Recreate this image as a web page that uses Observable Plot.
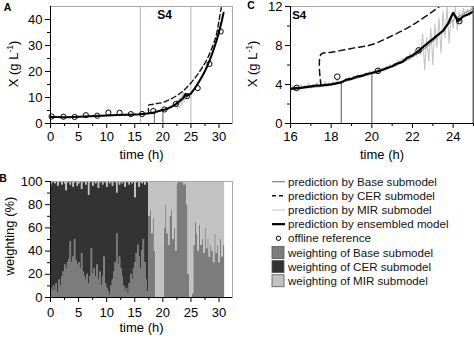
<!DOCTYPE html>
<html><head><meta charset="utf-8">
<script src="https://cdn.jsdelivr.net/npm/d3@7"></script>
<script src="https://cdn.jsdelivr.net/npm/@observablehq/plot@0.6"></script>
<style>
body{margin:0;background:#fff;}
#fig{position:relative;width:474px;height:339px;overflow:hidden;font-family:"Liberation Sans",Arial,Helvetica,sans-serif;}
#fig > svg{position:absolute;overflow:visible;}
</style></head><body><div id="fig"></div>
<script>
// ---------- data ----------
const offlineTime = [0.2,2.3,4.3,6.3,8.3,10.3,12.3,14.3,16.3,18.3,20.3,22.3,24.3,26.2,28.3,30.3];
const offlineX    = [2.7,2.6,2.5,3.2,3.0,4.2,4.1,3.6,3.65,4.8,5.4,7.5,10.5,13.6,22.9,35.4];

const ensTime = [0,1,2,3,4,5,6,7,8,9,10,11,12,13,14,15,
  16,16.25,16.5,16.75,17,17.25,17.5,17.75,18,18.25,18.5,18.75,19,19.25,19.5,19.75,20,20.25,20.5,20.75,
  21,21.25,21.5,21.75,22,22.25,22.5,22.75,23,23.25,23.5,23.75,24,24.25,24.5,24.75,25,
  25.5,26,26.5,27,27.5,28,28.5,29,29.5,30,30.5,30.8];
const ensX = [2.5,2.5,2.4,2.4,2.5,2.6,2.7,2.8,2.9,3.0,3.1,3.2,3.3,3.35,3.4,3.5,
  3.55,3.62,3.66,3.74,3.8,3.88,3.9,3.97,4.02,4.12,4.22,4.5,4.58,4.8,4.88,5.08,5.18,5.32,5.48,5.7,
  5.88,6.15,6.32,6.75,6.98,7.35,7.8,8.25,8.65,9.1,9.5,10.25,11.35,10.5,11.0,11.2,11.5,
  13.0,14.6,16.3,18.2,20.2,22.5,25.2,28.2,31.5,35.2,39.5,42.5];

const baseTime = [0,2,4,6,8,10,12,14,16,17,18,19,20,21,22,23,24,25,26,27,28,29,30,30.9];
const baseX    = [2.4,2.3,2.4,2.6,2.8,3.0,3.2,3.3,3.45,3.7,3.95,4.5,5.1,5.8,6.8,8.4,10.6,11.8,14.3,17.8,22.4,28.0,35.2,43.0];

const cerTime = [17.5,17.5,18,19,20,21,22,23,23.5,24,25,26,27,28,29,29.5,30,30.4];
const cerX    = [3.9,7.1,7.3,7.7,8.1,9.0,10.1,11.5,12.3,13.3,15.6,18.3,21.5,25.3,30.5,33.8,39.5,44.5];

const mirTime = d3.range(160, 251).map(i => i / 10); // 16.0 .. 25.0 h
const mirX = [3.3,3.9,3.4,3.8,3.5,4.0,3.6,3.9,3.7,4.1,
  3.6,4.0,3.8,4.2,3.7,4.1,3.9,4.3,3.8,4.2,
  4.0,4.3,4.0,4.5,4.1,4.4,4.2,4.6,4.4,4.8,
  4.5,4.9,4.6,5.0,4.7,5.1,4.8,5.2,4.9,5.4,
  5.0,5.4,5.2,5.6,5.3,5.7,5.4,5.9,5.6,6.1,
  5.8,6.2,6.0,6.5,6.2,6.7,6.4,6.9,6.6,7.2,
  6.8,7.4,6.9,7.7,7.1,9.2,5.5,8.8,6.4,9.8,
  6.0,10.2,7.8,10.8,7.2,11.5,8.8,12.0,8.2,11.2,
  9.8,12.0,9.6,11.4,10.4,11.8,10.9,11.7,11.1,11.9,
  11.3];

const zoomWindow = [16, 25];
const sampleTime = [18.5, 20];
const sampleX = [4.25, 5.25];

const weightTime = d3.range(0, 125).map(i => i * 0.25); // 0 .. 31 h
const weightBase = [8,5,10,6,12,4,15,10,18,22,28,25,30,33,48,30,35,50,32,28,
  30,25,38,22,18,15,20,12,18,42,20,25,18,28,15,22,10,18,35,12,
  8,5,2,10,15,22,30,55,28,35,25,18,10,5,8,3,12,20,15,25,
  30,38,45,35,25,40,50,30,15,5,
  70,75,55,68,40,0,0,0,0,0,0,60,80,55,45,70,75,50,60,40,
  98,100,100,99,100,97,98,80,20,0,0,3,45,65,55,40,62,45,50,38,
  60,42,50,35,45,40,30,55,38,45,30,50,35,45,45];
const weightCER = [89,94,90,92,88,92,84,90,79,78,70,67,69,67,49,70,60,49,68,68,
  68,75,55,77,82,82,80,76,81,58,76,75,80,72,79,77,90,79,65,87,
  87,95,96,90,81,78,69,35,72,62,75,80,90,90,92,96,85,80,83,75,
  56,61,55,60,75,58,50,67,85,94];

const models = ["Base", "CER", "MIR"];
const modelFill = ["#7c7c7c", "#333333", "#c2c2c2"];

const axA = {xMajor:[0,5,10,15,20,25,30], xMinor:[2.5,7.5,12.5,17.5,22.5,27.5], yMajor:[0,10,20,30,40], yMinor:[5,15,25,35]};
const axB = {xMajor:[0,5,10,15,20,25,30], xMinor:[2.5,7.5,12.5,17.5,22.5,27.5], yMajor:[0,20,40,60,80,100], yMinor:[10,30,50,70,90]};
const axC = {xMajor:[16,18,20,22,24], xMinor:[17,19,21,23,25], yMajor:[0,4,8,12], yMinor:[2,6,10]};

const legendItems = [
  {label:"prediction by Base submodel", kind:"line", stroke:"#8a8a8a", w:1.3},
  {label:"prediction by CER submodel", kind:"line", stroke:"#111", w:1.5, dash:"4,3"},
  {label:"prediction by MIR submodel", kind:"line", stroke:"#cfcfcf", w:1.3},
  {label:"prediction by ensembled model", kind:"line", stroke:"#000", w:2.2},
  {label:"offline reference", kind:"dot"},
  {label:"weighting of Base submodel", kind:"rect", fill:modelFill[0]},
  {label:"weighting of CER submodel", kind:"rect", fill:modelFill[1]},
  {label:"weighting of MIR submodel", kind:"rect", fill:modelFill[2]}
];

// ---------- tables ----------
const ens = ensTime.map((t, i) => ({t, x: ensX[i]}));
const base = baseTime.map((t, i) => ({t, x: baseX[i]}));
const cer = cerTime.map((t, i) => ({t, x: cerX[i]}));
const mir = mirTime.map((t, i) => ({t, x: mirX[i]}));
const off = offlineTime.map((t, i) => ({t, x: offlineX[i]}));
const samples = sampleTime.map((t, i) => ({t, x: sampleX[i]}));
const wRows = [];
weightTime.forEach((t, i) => {
  const b = weightBase[i], c = weightCER[i] ?? 0;
  wRows.push({t, model:"Base", w:b}, {t, model:"CER", w:c}, {t, model:"MIR", w:100 - b - c});
});

const FONT = '"Liberation Sans", Arial, Helvetica, sans-serif';
const fig = document.getElementById("fig");

function axes(a, pad) {
  return [
    Plot.axisX(a.xMajor, {tickSize:5, tickPadding:pad, label:null, fontSize:13}),
    Plot.axisX(a.xMinor, {tickSize:3, tickFormat:() => "", label:null}),
    Plot.axisY(a.yMajor, {tickSize:5, tickPadding:3, label:null, fontSize:13}),
    Plot.axisY(a.yMinor, {tickSize:3, tickFormat:() => "", label:null})
  ];
}
function place(svg, left, top) {
  svg.style.position = "absolute";
  svg.style.left = left + "px";
  svg.style.top = top + "px";
  fig.appendChild(svg);
}
function yLabel(svg, x, y, main, sup, tail) {
  const t = d3.select(svg).append("text")
    .attr("transform", `translate(${x},${y}) rotate(-90)`)
    .attr("text-anchor", "middle").attr("font-size", 13).attr("fill", "#000")
    .attr("font-family", FONT).attr("dy", "0.35em");
  t.append("tspan").text(main);
  if (sup) {
    t.append("tspan").attr("font-size", 8.5).attr("dy", -5).text(sup);
    t.append("tspan").attr("dy", 5).text(tail);
  }
}
function panelLabel(svg, x, y, s) {
  d3.select(svg).append("text").attr("x", x).attr("y", y).attr("font-size", 10.5)
    .attr("font-weight", "bold").attr("font-family", FONT).attr("fill", "#000").text(s);
}

// ---------- panel A ----------
const plotA = Plot.plot({
  width: 240, height: 165, marginLeft: 50, marginRight: 8, marginTop: 6, marginBottom: 42,
  x: {domain: [0, 32.4]}, y: {domain: [0, 45]},
  style: {fontFamily: FONT, fontSize: "13px", background: "transparent", color: "#000"},
  marks: [
    Plot.ruleX(zoomWindow, {stroke: "#b4b4b4", strokeWidth: 1}),
    Plot.ruleX(samples, {x: "t", y1: 0, y2: "x", stroke: "#7a7a7a", strokeWidth: 1.2}),
    Plot.line(mir, {x: "t", y: "x", stroke: "#c8c8c8", strokeWidth: 1}),
    Plot.line(base, {x: "t", y: "x", stroke: "#8a8a8a", strokeWidth: 1, curve: "catmull-rom"}),
    Plot.line(cer, {x: "t", y: "x", stroke: "#111", strokeWidth: 1.4, strokeDasharray: "5,3", curve: "catmull-rom", clip: true}),
    Plot.line(ens, {x: "t", y: "x", stroke: "#000", strokeWidth: 2}),
    Plot.dot(off, {x: "t", y: "x", r: 2.6, stroke: "#000", strokeWidth: 1, fill: "none"}),
    Plot.frame({stroke: "#a8a8a8"}),
    Plot.ruleX([0], {stroke: "#000"}),
    Plot.ruleY([0], {stroke: "#000"}),
    ...axes(axA, 3),
    Plot.text(["S4"], {x: 20.3, y: 41.5, fontWeight: "bold", fontSize: 12}),
    Plot.text(["time (h)"], {frameAnchor: "bottom", dy: 35, fontSize: 13})
  ]
});
yLabel(plotA, 13, 64, "X (g L", "-1", ")");
panelLabel(plotA, 7.5, 10.5, "A");
place(plotA, 0, 0);

// ---------- panel B ----------
const plotB = Plot.plot({
  width: 240, height: 169, marginLeft: 50, marginRight: 8, marginTop: 11, marginBottom: 42,
  x: {domain: [0, 32.4]}, y: {domain: [0, 100]},
  color: {domain: models, range: modelFill},
  style: {fontFamily: FONT, fontSize: "13px", background: "transparent", color: "#000"},
  marks: [
    Plot.areaY(wRows, {x: "t", y: "w", fill: "model", order: models, curve: "step-after"}),
    Plot.frame({stroke: "#a8a8a8"}),
    Plot.ruleX([0], {stroke: "#000"}),
    Plot.ruleY([0], {stroke: "#000"}),
    ...axes(axB, 5),
    Plot.text(["time (h)"], {frameAnchor: "bottom", dy: 34, fontSize: 13})
  ]
});
yLabel(plotB, 9.5, 66, "weighting (%)");
panelLabel(plotB, 3, 11.5, "B");
place(plotB, 0, 170);

// ---------- panel C ----------
const clipC = d => d.t >= 15.5 && d.t <= 25.5;
const plotC = Plot.plot({
  width: 234, height: 165, marginLeft: 50, marginRight: 1, marginTop: 6, marginBottom: 42,
  x: {domain: [16, 25]}, y: {domain: [0, 12]},
  style: {fontFamily: FONT, fontSize: "13px", background: "transparent", color: "#000"},
  marks: [
    Plot.ruleX(samples, {x: "t", y1: 0, y2: "x", stroke: "#7a7a7a", strokeWidth: 1.3}),
    Plot.line(mir, {x: "t", y: "x", stroke: "#c4c4c4", strokeWidth: 1.1, clip: true}),
    Plot.line(base.filter(clipC), {x: "t", y: "x", stroke: "#8a8a8a", strokeWidth: 1, curve: "catmull-rom", clip: true}),
    Plot.line(cer.filter(clipC), {x: "t", y: "x", stroke: "#111", strokeWidth: 1.5, strokeDasharray: "6,4", curve: "catmull-rom", clip: true}),
    Plot.line(ens.filter(clipC), {x: "t", y: "x", stroke: "#000", strokeWidth: 2.2, clip: true}),
    Plot.dot(off.filter(clipC), {x: "t", y: "x", r: 2.8, stroke: "#000", strokeWidth: 1, fill: "none", clip: true}),
    Plot.frame({stroke: "#a8a8a8"}),
    Plot.ruleX([16], {stroke: "#000"}),
    Plot.ruleY([0], {stroke: "#000"}),
    Plot.ruleX([25], {stroke: "#666", strokeWidth: 2}),
    ...axes(axC, 3),
    Plot.text(["S4"], {x: 16.08, y: 11.1, textAnchor: "start", fontWeight: "bold", fontSize: 11.5}),
    Plot.text(["time (h)"], {frameAnchor: "bottom", dy: 35, fontSize: 13})
  ]
});
yLabel(plotC, 12.5, 64, "X (g L", "-1", ")");
panelLabel(plotC, 11, 8.5, "C");
place(plotC, 240, 0);

// ---------- legend ----------
const leg = d3.create("svg").attr("width", 234).attr("height", 169)
  .attr("font-family", FONT).attr("font-size", 11.6);
legendItems.forEach((it, i) => {
  const y = 11.7 + i * 14.15;
  const g = leg.append("g");
  if (it.kind === "line") {
    g.append("line").attr("x1", 32).attr("x2", 45).attr("y1", y).attr("y2", y)
      .attr("stroke", it.stroke).attr("stroke-width", it.w).attr("stroke-dasharray", it.dash || null);
  } else if (it.kind === "dot") {
    g.append("circle").attr("cx", 38.5).attr("cy", y).attr("r", 2.2).attr("fill", "none").attr("stroke", "#000").attr("stroke-width", 1);
  } else {
    g.append("rect").attr("x", 32).attr("y", y - 6).attr("width", 12).attr("height", 12)
      .attr("fill", it.fill).attr("stroke", "#555").attr("stroke-width", 0.8);
  }
  g.append("text").attr("x", 48).attr("y", y).attr("dy", "0.36em").attr("fill", "#111").text(it.label);
});
place(leg.node(), 240, 170);
</script></body></html>
